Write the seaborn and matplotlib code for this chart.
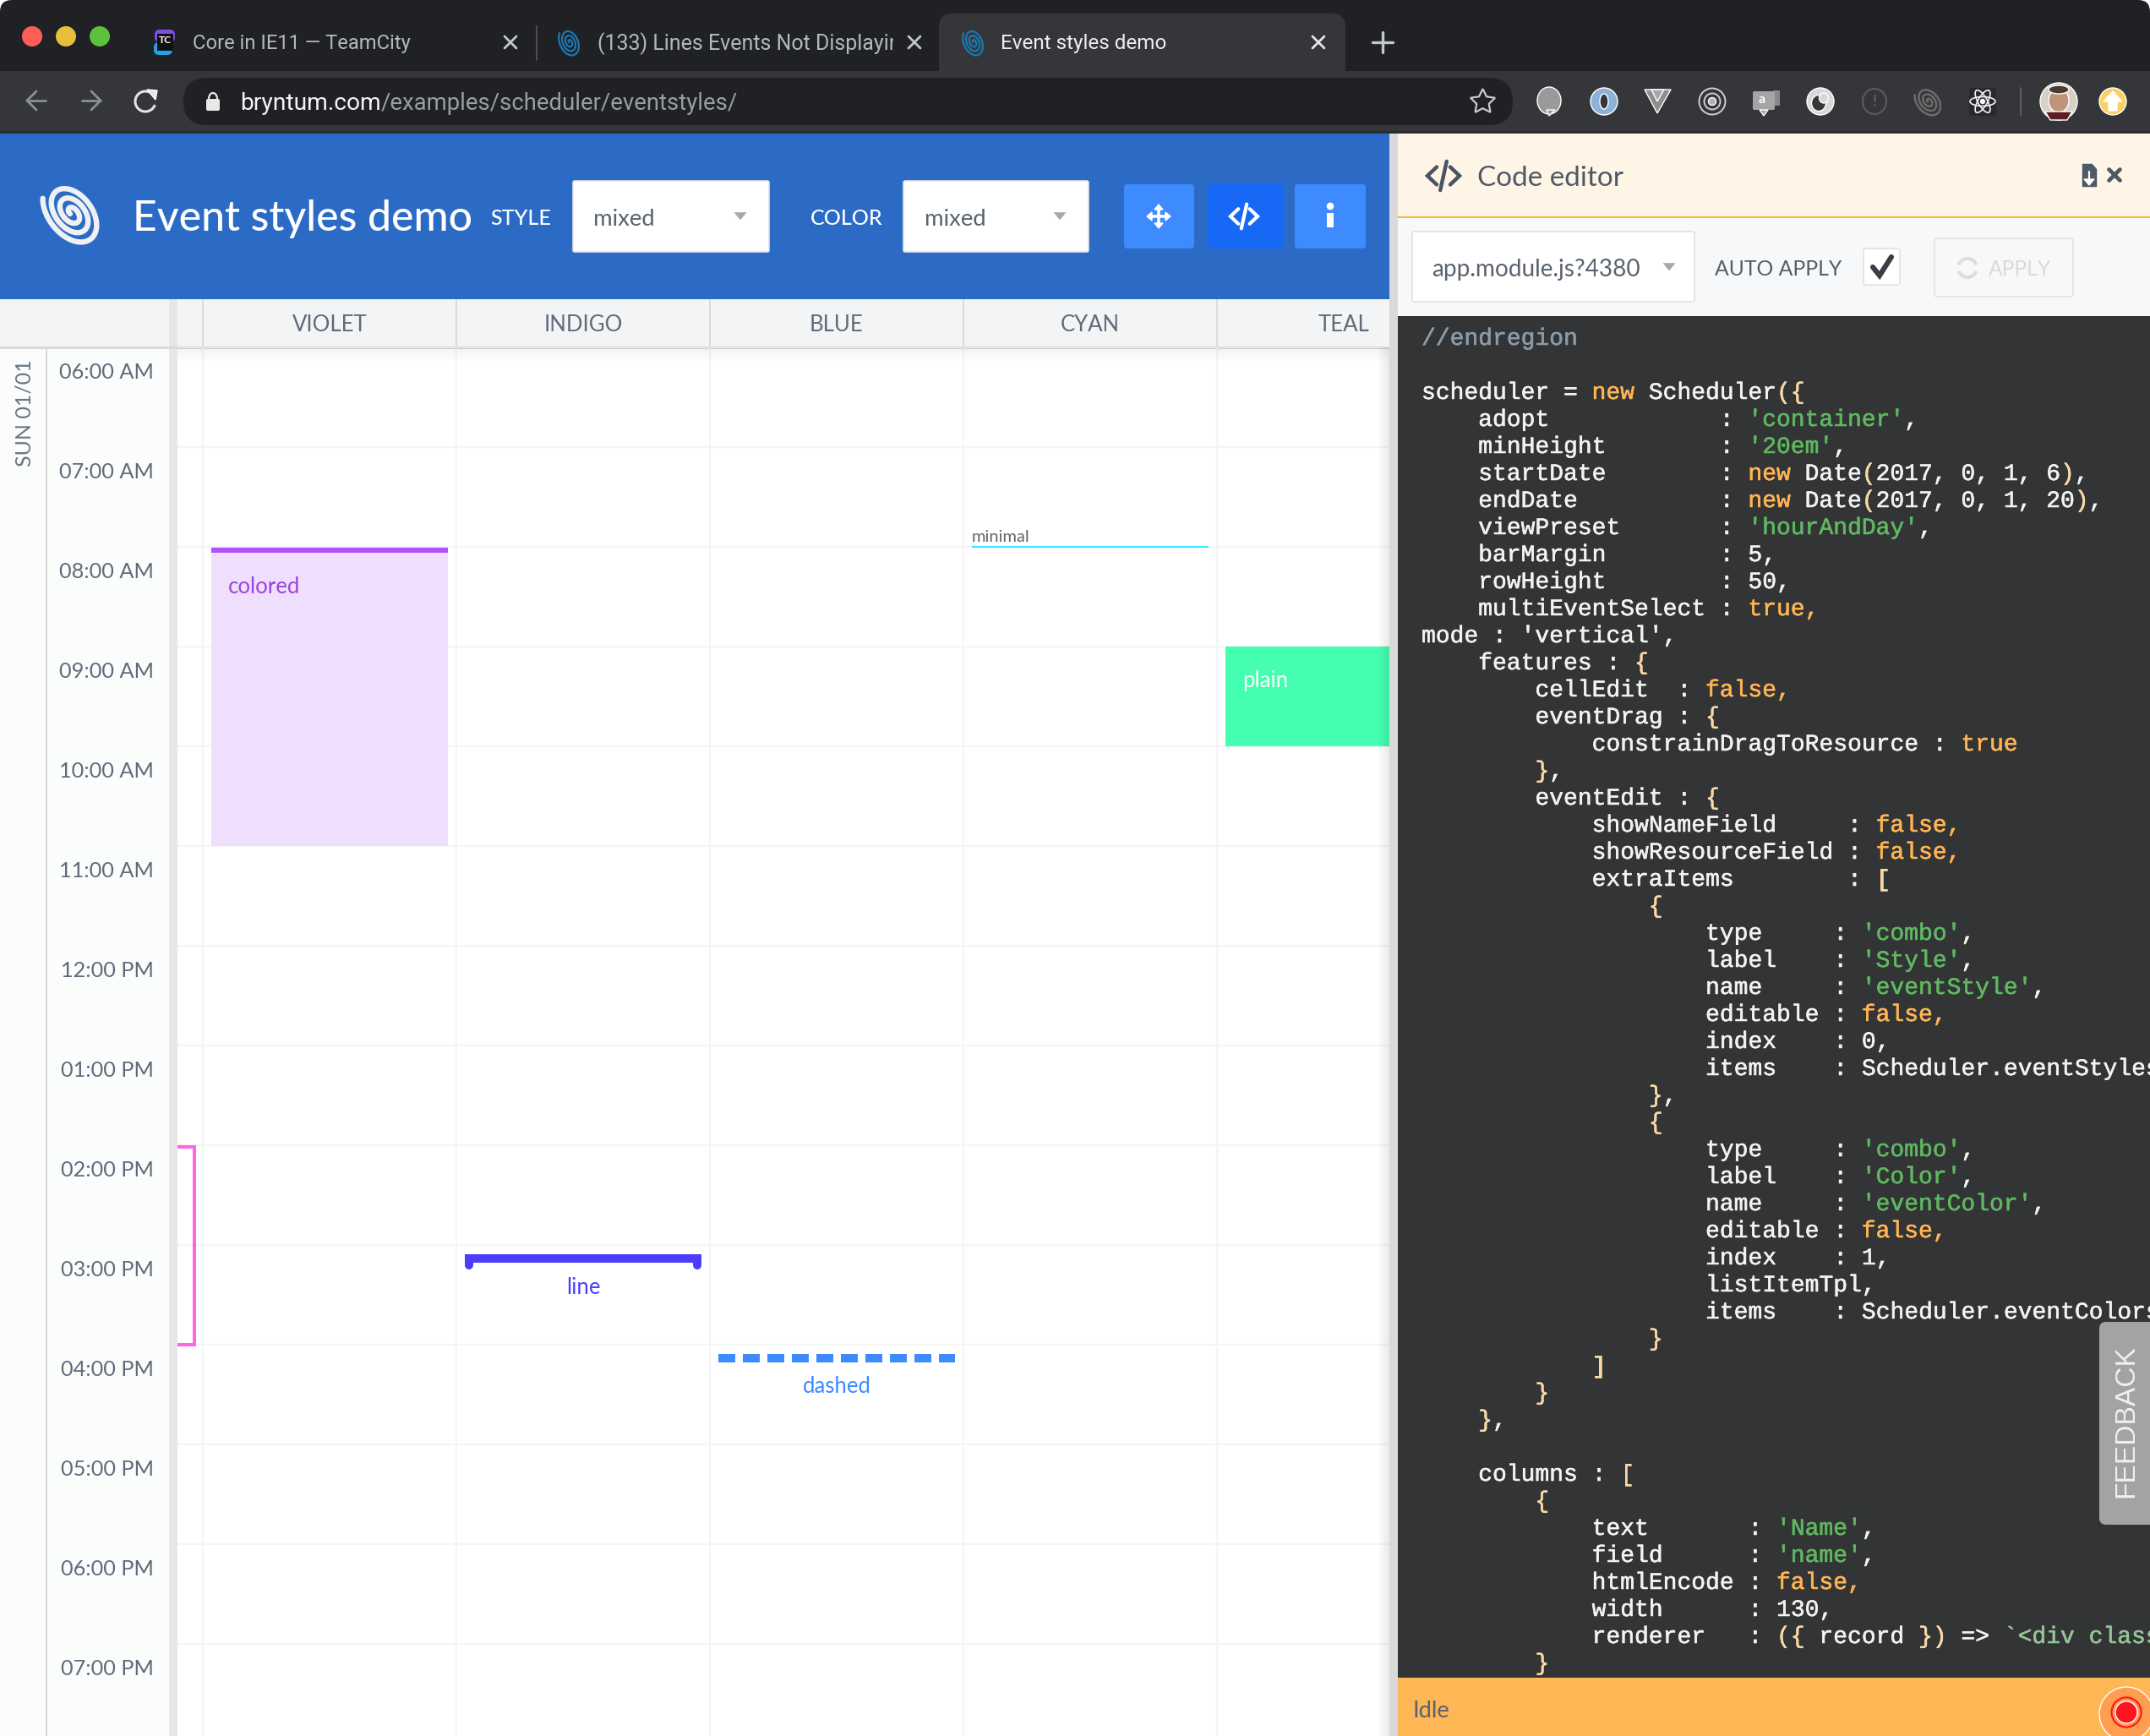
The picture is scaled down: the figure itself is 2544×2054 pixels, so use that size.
#!/usr/bin/env python3
"""Event styles demo: a vertical scheduler next to a code editor, in a browser window."""

import re

import matplotlib
matplotlib.use("Agg")
import matplotlib.patheffects as path_effects
import matplotlib.pyplot as plt
import matplotlib.transforms as mtransforms
import numpy as np
import seaborn as sns
from matplotlib.patches import Arc, Circle, Ellipse, FancyBboxPatch, Polygon, Rectangle

RESOURCES = ["PINK", "VIOLET", "INDIGO", "BLUE", "CYAN", "TEAL"]
TIME_LABELS = [
    "06:00 AM", "07:00 AM", "08:00 AM", "09:00 AM", "10:00 AM", "11:00 AM", "12:00 PM",
    "01:00 PM", "02:00 PM", "03:00 PM", "04:00 PM", "05:00 PM", "06:00 PM", "07:00 PM",
]
HOUR_TICKS = [6, 7, 8, 9, 10, 11, 12, 13, 14, 15, 16, 17, 18, 19]

EVENT_NAMES = ["hollow", "colored", "line", "dashed", "minimal", "plain"]
EVENT_STARTS = [14.02, 8.0, 15.09, 16.09, 7.99, 9.0]
EVENT_HOURS = [1.98, 3.0, 0.0, 0.0, 0.0, 1.0]
EVENT_COLORS = ["#ff66e6", "#f0dffc", "#4a3dff", "#3d8bff", "#36e8ff", "#44ffb0"]

CODE_LINES = [
    "//endregion",
    "",
    "scheduler = new Scheduler({",
    "    adopt            : 'container',",
    "    minHeight        : '20em',",
    "    startDate        : new Date(2017, 0, 1, 6),",
    "    endDate          : new Date(2017, 0, 1, 20),",
    "    viewPreset       : 'hourAndDay',",
    "    barMargin        : 5,",
    "    rowHeight        : 50,",
    "    multiEventSelect : true,",
    "mode : 'vertical',",
    "    features : {",
    "        cellEdit  : false,",
    "        eventDrag : {",
    "            constrainDragToResource : true",
    "        },",
    "        eventEdit : {",
    "            showNameField     : false,",
    "            showResourceField : false,",
    "            extraItems        : [",
    "                {",
    "                    type     : 'combo',",
    "                    label    : 'Style',",
    "                    name     : 'eventStyle',",
    "                    editable : false,",
    "                    index    : 0,",
    "                    items    : Scheduler.eventStyles,",
    "                },",
    "                {",
    "                    type     : 'combo',",
    "                    label    : 'Color',",
    "                    name     : 'eventColor',",
    "                    editable : false,",
    "                    index    : 1,",
    "                    listItemTpl,",
    "                    items    : Scheduler.eventColors",
    "                }",
    "            ]",
    "        }",
    "    },",
    "",
    "    columns : [",
    "        {",
    "            text       : 'Name',",
    "            field      : 'name',",
    "            htmlEncode : false,",
    "            width      : 130,",
    "            renderer   : ({ record }) => `<div class",
    "        }",
]

sns.set_theme(style="white", font="Lato")

W, H = 2544, 2054
HOUR_PX = 118.0
COL_PX = 300.0

fig = plt.figure(figsize=(W / 100, H / 100), dpi=100, facecolor="white")

# window chrome and code editor live on one axes in pixel units, below the scheduler
bg = fig.add_axes([0, 0, 1, 1], zorder=-1)
bg.set_xlim(0, W)
bg.set_ylim(H, 0)
bg.axis("off")


def box(x0, y0, x1, y1, color, edge="none", r=0, lw=0, z=1):
    if r:
        p = FancyBboxPatch((x0, y0), x1 - x0, y1 - y0, boxstyle=f"round,pad=0,rounding_size={r}",
                           fc=color, ec=edge, lw=lw, zorder=z)
    else:
        p = Rectangle((x0, y0), x1 - x0, y1 - y0, fc=color, ec=edge, lw=lw, zorder=z)
    bg.add_patch(p)
    return p


def label(x, y, s, px, color, width=None, family="Lato", z=5, **kw):
    kw.setdefault("va", "center")
    txt = bg.text(x, y + 1.5, s, fontsize=px * 0.72, color=color, family=family, zorder=z, **kw)
    if width:
        ext = txt.get_window_extent(fig.canvas.get_renderer())
        txt.set_fontsize(px * 0.72 * width / max(ext.width, ext.height))
    return txt


def stroke(xs, ys, color, lw=2.0, z=6, cap="round"):
    bg.plot(xs, ys, color=color, lw=lw, zorder=z, solid_capstyle=cap, solid_joinstyle="miter")


def cross(x, y, r, color, lw=2.0):
    stroke([x - r, x + r], [y - r, y + r], color, lw)
    stroke([x - r, x + r], [y + r, y - r], color, lw)


def tri_down(x, y, color, w=14, h=10):
    bg.add_patch(Polygon([(x - w / 2, y - h / 2), (x + w / 2, y - h / 2), (x, y + h / 2)], fc=color, zorder=6))


def spiral(x, y, major, minor, color, lw, angle=52, turns=3.4):
    # logo swirl, only a decoration of the page
    t = np.linspace(0.08, 1, 320)
    a = t * turns * 2 * np.pi
    u, v = t * np.cos(a) * major / 2, t * np.sin(a) * minor / 2
    c, s = np.cos(np.radians(angle)), np.sin(np.radians(angle))
    bg.plot(x + u * c - v * s, y + u * s + v * c, color=color, lw=lw, zorder=6, solid_capstyle="round")


def code_icon(x, y, s, color, lw):
    stroke([x - s * 0.42, x - s, x - s * 0.42], [y - s * 0.55, y, y + s * 0.55], color, lw)
    stroke([x + s * 0.42, x + s, x + s * 0.42], [y - s * 0.55, y, y + s * 0.55], color, lw)
    stroke([x + s * 0.2, x - s * 0.2], [y - s * 0.9, y + s * 0.9], color, lw)


# browser tab strip
box(0, 0, W, 40, "#202124", r=14)
box(0, 16, W, 84, "#202124")
box(0, 84, W, 157, "#35363a")
box(1111, 16, 1592, 100, "#35363a", r=16)
box(0, 155, W, 158, "#2a2b2e")
for cx, color in zip([38, 78, 118], ["#ff5f57", "#e8bf3b", "#5cc13b"]):
    bg.add_patch(Ellipse((cx, 43), 24, 24, fc=color, ec="none", zorder=3))

box(183, 35, 207, 50, "#7b4fe0", r=6)
box(182, 50, 204, 65, "#1fa3e8", r=6)
box(186, 40, 205, 60, "#111111", z=3)
label(195, 46, "TC", 12, "white", weight="bold", ha="center")
label(228, 50, "Core in IE11 \u2014 TeamCity", 25, "#b4b8bd", width=258, family="Roboto")
cross(604, 50, 7, "#c4c7ca", 2)
stroke([635, 635], [31, 71], "#55575b", 1.2)
spiral(674, 50, 36, 24, "#1a78b4", 1.6, angle=68)
tab_txt = label(707, 50, "(133) Lines Events Not Displaying", 25, "#b4b8bd", family="Roboto")
tab_txt.set_clip_on(True)
tab_txt.set_clip_path(Rectangle((700, 20), 357, 60, transform=bg.transData))
cross(1082, 50, 7, "#c4c7ca", 2)
spiral(1152, 50, 36, 24, "#1a78b4", 1.6, angle=68)
label(1184, 50, "Event styles demo", 25, "#eeeeee", width=197, family="Roboto")
cross(1560, 50, 7, "#e4e5e6", 2)
stroke([1636, 1636], [38, 62], "#c4c7ca", 2.4)
stroke([1624, 1648], [50, 50], "#c4c7ca", 2.4)

# address bar
stroke([32, 54], [119, 119], "#8b8e92", 2)
stroke([43, 32, 43], [108, 119, 130], "#8b8e92", 2)
stroke([97, 119], [119, 119], "#8b8e92", 2)
stroke([108, 119, 108], [108, 119, 130], "#8b8e92", 2)
bg.add_patch(Arc((172, 120), 24, 24, theta1=20, theta2=300, color="#e2e4e6", lw=2.2, zorder=6))
bg.add_patch(Polygon([(174, 106), (186, 107), (184, 118)], fc="#e2e4e6", zorder=6))
box(217, 92, 1790, 148, "#202124", r=28)
box(244, 117, 260, 131, "#e8e8e8", r=2, z=6)
bg.add_patch(Arc((252, 117), 10, 14, theta1=180, theta2=360, color="#e8e8e8", lw=1.6, zorder=6))
url_a = label(284, 121, "bryntum.com", 28, "#f4f4f4", family="Roboto", width=167)
url_b = label(451, 121, "/examples/scheduler/eventstyles/", 28, "#9a9da1", family="Roboto", width=420)
bg.plot([1754], [120], marker=(5, 1), ms=22, mfc="none", mec="#c8cacc", mew=1.6, zorder=6)

# extension icons
ICON_GREY = "#9a9a9a"
bg.add_patch(Ellipse((1833, 119), 28, 32, fc=ICON_GREY, zorder=6))
bg.add_patch(Polygon([(1830, 130), (1840, 130), (1833, 137)], fc=ICON_GREY, zorder=6))
bg.add_patch(Ellipse((1898, 120), 32, 32, fc="#8db2da", zorder=6))
bg.add_patch(Ellipse((1898, 120), 10, 18, fc="#35363a", zorder=7))
bg.add_patch(Polygon([(1946, 106), (1977, 106), (1961, 134)], fc="#8e8e8e", zorder=6))
bg.add_patch(Polygon([(1954, 106), (1969, 106), (1961, 120)], fc="#a8a8a8", zorder=7))
bg.add_patch(Ellipse((2026, 120), 31, 31, fc="none", ec="#cfcfcf", lw=1.4, zorder=6))
bg.add_patch(Ellipse((2026, 120), 19, 19, fc="none", ec="#cfcfcf", lw=1.4, zorder=6))
bg.add_patch(Ellipse((2026, 120), 9, 9, fc="#b0b0b0", zorder=6))
box(2074, 108, 2100, 130, "#a5a5a5", r=2, z=6)
box(2098, 107, 2106, 125, "#8a8a8a", z=5)
bg.add_patch(Polygon([(2082, 130), (2092, 130), (2087, 137)], fc="#a5a5a5", zorder=6))
label(2085, 117, "a", 16, "white", ha="center", weight="bold", z=8)
bg.add_patch(Ellipse((2154, 120), 32, 32, fc="#d8d8d8", zorder=6))
bg.add_patch(Ellipse((2152, 122), 17, 19, fc="#35363a", zorder=7))
bg.add_patch(Ellipse((2158, 116), 11, 12, fc="#d8d8d8", zorder=8))
bg.add_patch(Ellipse((2218, 120), 28, 30, fc="none", ec="#5a5a5a", lw=1.6, zorder=6))
label(2218, 119, "!", 18, "#5e5e5e", ha="center", weight="bold")
spiral(2282, 120, 40, 28, "#6c6c6c", 1.8)
box(2330, 104, 2362, 137, "#28292c", r=3)
for ang in [0, 60, 120]:
    bg.add_patch(Ellipse((2346, 120), 30, 11, angle=ang, fc="none", ec="#f2f2f2", lw=1.2, zorder=6))
bg.add_patch(Circle((2346, 120), 2.5, fc="#f2f2f2", zorder=7))
stroke([2391, 2391], [104, 136], "#66686c", 1.2)
bg.add_patch(Ellipse((2436, 120), 44, 44, fc="#d6d0c6", zorder=6))
bg.add_patch(Ellipse((2436, 119), 24, 28, fc="#c09478", zorder=7))
bg.add_patch(Ellipse((2436, 106), 24, 10, fc="#4a3a30", zorder=8))
bg.add_patch(Polygon([(2426, 142), (2446, 142), (2452, 132), (2420, 132)], fc="#5e1d24", zorder=8))
bg.add_patch(Ellipse((2500, 120), 32, 32, fc="#fbd165", zorder=6))
bg.add_patch(Polygon([(2500, 108), (2511, 120), (2505, 120), (2505, 131), (2495, 131), (2495, 120), (2489, 120)],
                     fc="white", zorder=7))

# blue demo header
BLUE = "#2b6bc6"
box(0, 158, 1644, 354, BLUE)
spiral(85, 252, 86, 56, "#eef0f2", 4.6)
label(157, 258, "Event styles demo", 50, "white", width=401, weight="medium")
label(580, 257, "STYLE", 26, "white", width=72, weight="medium")
label(959, 257, "COLOR", 26, "white", width=85, weight="medium")
for x0, x1, xt, xa in [(678, 910, 702, 876), (1069, 1288, 1094, 1254)]:
    box(x0, 214, x1, 298, "white", edge="#dfe3e6", lw=1.2, r=2)
    label(xt, 258, "mixed", 28, "#59636e", width=73)
    tri_down(xa, 256, "#a8a8a8", 18, 11)
box(1330, 218, 1413, 294, "#3d8bff", r=4)
box(1428, 218, 1518, 294, "#1768f5", r=4)
box(1532, 218, 1616, 294, "#3d8bff", r=4)
stroke([1371, 1371], [246, 266], "white", 2.6, cap="butt")
stroke([1361, 1381], [256, 256], "white", 2.6, cap="butt")
for pts in [[(1371, 242), (1376, 248), (1366, 248)], [(1371, 270), (1376, 264), (1366, 264)],
            [(1357, 256), (1363, 251), (1363, 261)], [(1385, 256), (1379, 251), (1379, 261)]]:
    bg.add_patch(Polygon(pts, fc="white", zorder=6))
code_icon(1472, 256, 16, "white", 3.0)
bg.add_patch(Circle((1574, 244), 3.6, fc="white", zorder=6))
box(1570, 252, 1578, 269, "white", z=6)

# scheduler furniture
box(0, 354, 1644, 411, "#f3f4f6")
box(0, 411, 200, H, "#fbfdfc")
box(200, 354, 210, H, "#e6e7e9", z=2)
box(0, 410, 1644, 413, "#d8d9db", z=3)
stroke([55, 55], [411, H], "#d5d6d8", 1.4, z=2, cap="butt")
for cx in [240, 540, 840, 1140, 1440]:
    stroke([cx, cx], [354, 411], "#dadbdd", 1.4, z=2, cap="butt")
label(29, 487, "SUN 01/01", 24, "#6a7684", width=127, rotation=90, ha="center")

# code editor panel
box(1644, 158, 1654, H, "#d8d9db", z=2)
box(1654, 158, W, 256, "#fff5e6")
box(1654, 256, W, 258, "#ffae42")
box(1654, 258, W, 374, "#f7f8fa")
box(1654, 374, W, 1985, "#323436")
box(1654, 1985, W, H, "#ffb655", z=3)
code_icon(1708, 208, 19, "#4a5460", 3.2)
label(1748, 209, "Code editor", 36, "#4f5966", width=173)
bg.add_patch(Polygon([(2463, 193), (2476, 193), (2482, 200), (2482, 222), (2463, 222)], fc="#4f5966", zorder=6))
stroke([2472, 2472], [203, 214], "white", 1.6, z=7)
bg.add_patch(Polygon([(2466, 212), (2478, 212), (2472, 219)], fc="white", zorder=7))
cross(2502, 207, 6.5, "#4f5966", 3.4)
box(1671, 274, 2005, 357, "white", edge="#e0e2e5", lw=1.2, r=2)
label(1694, 318, "app.module.js?4380", 28, "#59636e", width=247)
tri_down(1975, 316, "#a8a8a8", 18, 11)
label(2029, 317, "AUTO APPLY", 26, "#545e6a", width=150)
box(2205, 294, 2248, 337, "white", edge="#dfe1e4", lw=1.2, r=3)
stroke([2216, 2224, 2238], [316, 326, 304], "#3a3e44", 4.4, z=7)
box(2289, 282, 2453, 351, "none", edge="#e4e6e8", lw=1.4, r=3)
bg.add_patch(Arc((2328, 317), 22, 22, theta1=200, theta2=340, color="#dcdee0", lw=3, zorder=6))
bg.add_patch(Arc((2328, 317), 22, 22, theta1=20, theta2=160, color="#dcdee0", lw=3, zorder=6))
label(2353, 317, "APPLY", 26, "#d8dadc", width=74)

# code text, coloured token by token
CHAR_PX = 16.8
TOKEN = re.compile(r"(//.*|'[^']*'|`.*|\bnew\b|\b(?:true|false),?|[(){}\[\]])")
for row, line in enumerate(CODE_LINES):
    col = 0
    for tok in TOKEN.split(line):
        color = "#f2f2f2"
        if line.startswith("mode"):
            pass
        elif tok.startswith("//"):
            color = "#8b9ba8"
        elif tok.startswith("'"):
            color = "#5fb760"
        elif tok.startswith("`"):
            color = "#96c496"
        elif tok == "new" or tok.startswith(("true", "false")):
            color = "#ffb454"
        elif tok in list("(){}[]"):
            color = "#f9d9a4"
        if tok.strip():
            txt = bg.text(1682 + col * CHAR_PX, 408 + row * 32.0, tok, fontsize=28 * 0.72, color=color,
                          family="Liberation Mono", va="baseline", zorder=4)
            txt.set_path_effects([path_effects.withStroke(linewidth=0.4, foreground=color)])
        col += len(tok)

box(2484, 1564, 2570, 1804, "#a3a3a3", r=8, z=8)
label(2516, 1680, "FEEDBACK", 34, "#f0f0f0", width=180, family="Liberation Sans", rotation=90, ha="center", z=9)

label(1671, 2023, "Idle", 28, "#59636e", width=44)
bg.add_patch(Circle((2516, 2028), 32, fc="#ff9d50", zorder=4))
bg.add_patch(Circle((2516, 2026), 17.5, fc="none", ec="#ff1a1a", lw=1.6, zorder=5))
bg.add_patch(Circle((2516, 2026), 13, fc="#ff1420", zorder=5))

# scheduler: columns are resources, vertical scale is the time of day
ax = fig.add_axes([210 / W, 0, (1644 - 210) / W, (H - 411) / H], zorder=1)
ax.patch.set_alpha(0)

for i, name in enumerate(EVENT_NAMES):
    if EVENT_HOURS[i] <= 0:
        continue
    sns.barplot(x=[RESOURCES[i]], y=[EVENT_HOURS[i]], order=RESOURCES, ax=ax, bottom=EVENT_STARTS[i],
                width=0.934, saturation=1, errorbar=None, color=EVENT_COLORS[i], fill=name != "hollow",
                linewidth=2.9 if name == "hollow" else 0, zorder=3)

half = 0.467

# top bar of the coloured event
i_col = EVENT_NAMES.index("colored")
ax.hlines(EVENT_STARTS[i_col] + 4 / HOUR_PX, i_col - half, i_col + half, color="#b052fb", lw=4.3, zorder=4,
          capstyle="butt")

i_line = EVENT_NAMES.index("line")
y_line = EVENT_STARTS[i_line]
ax.hlines(y_line + 5 / HOUR_PX, i_line - half, i_line + half, color=EVENT_COLORS[i_line], lw=7.2, zorder=4,
          capstyle="butt")
ax.vlines([i_line - half + 5 / COL_PX, i_line + half - 5 / COL_PX], y_line + 5 / HOUR_PX, y_line + 13 / HOUR_PX,
          color=EVENT_COLORS[i_line], lw=7.2, zorder=4, capstyle="round")

i_dash = EVENT_NAMES.index("dashed")
ax.hlines(EVENT_STARTS[i_dash] + 5 / HOUR_PX, i_dash - half, i_dash + half, color=EVENT_COLORS[i_dash], lw=7.2,
          zorder=4, linestyles=[(0, (2.0, 0.9))], capstyle="butt")

i_min = EVENT_NAMES.index("minimal")
ax.hlines(EVENT_STARTS[i_min] + 1 / HOUR_PX, i_min - half, i_min + half, color=EVENT_COLORS[i_min], lw=1.5, zorder=4,
          capstyle="butt")

TEXT_PT = 18.5
ax.annotate("colored", (i_col - half, EVENT_STARTS[i_col]), xytext=(20, -47), textcoords="offset pixels",
            color="#9a45dd", fontsize=TEXT_PT, va="center", ha="left")
ax.annotate("line", (i_line, y_line), xytext=(0, -40), textcoords="offset pixels",
            color=EVENT_COLORS[i_line], fontsize=TEXT_PT, va="center", ha="center")
ax.annotate("dashed", (i_dash, EVENT_STARTS[i_dash]), xytext=(0, -39), textcoords="offset pixels",
            color=EVENT_COLORS[i_dash], fontsize=TEXT_PT, va="center", ha="center")
ax.annotate("minimal", (i_min - half, EVENT_STARTS[i_min]), xytext=(0, 10), textcoords="offset pixels",
            color="#666666", fontsize=14.5, va="center", ha="left")
i_plain = EVENT_NAMES.index("plain")
ax.annotate("plain", (i_plain - half, EVENT_STARTS[i_plain]), xytext=(20, -40), textcoords="offset pixels",
            color="white", fontsize=TEXT_PT, va="center", ha="left", annotation_clip=False)

ax.set_xlabel("")
ax.set_ylabel("")
ax.set_xticks(range(len(RESOURCES)), RESOURCES)
ax.set_xticks(np.arange(len(RESOURCES)) + 0.5, minor=True)
ax.set_yticks(HOUR_TICKS, TIME_LABELS)
x_min, x_max = (210 - 90) / COL_PX, (1644 - 90) / COL_PX
ax.set_xlim(x_min, x_max)
ax.set_ylim(6 + (H - 411) / HOUR_PX, 6)

# faint shadows under the header row and along the splitter
for k in range(4):
    ax.axhspan(6, 6 + (4 + k * 4) / HOUR_PX, color="black", alpha=0.012, lw=0, zorder=5)
    ax.axvspan(x_max - (3 + k * 3) / COL_PX, x_max, color="black", alpha=0.02, lw=0, zorder=5)

ax.tick_params(axis="x", which="both", length=0, top=False, bottom=False, labeltop=True, labelbottom=False,
               pad=19, labelsize=18.5, labelcolor="#5f6b7a")
ax.tick_params(axis="y", which="both", length=0, pad=20, labelsize=18.2, labelcolor="#5f6b7a")
ax.grid(True, axis="y", which="major", color="#f4f5f6", lw=1.5)
ax.grid(True, axis="x", which="minor", color="#f4f5f6", lw=1.5)
ax.grid(False, axis="x", which="major")
ax.set_axisbelow(True)
for spine in ax.spines.values():
    spine.set_visible(False)
for tick_text in ax.get_xticklabels():
    tick_text.set_va("center")
shift = mtransforms.ScaledTranslation(0, -0.28, fig.dpi_scale_trans)
for tick_text in ax.get_yticklabels():
    tick_text.set_transform(tick_text.get_transform() + shift)

fig.savefig("out.png", dpi=100)
